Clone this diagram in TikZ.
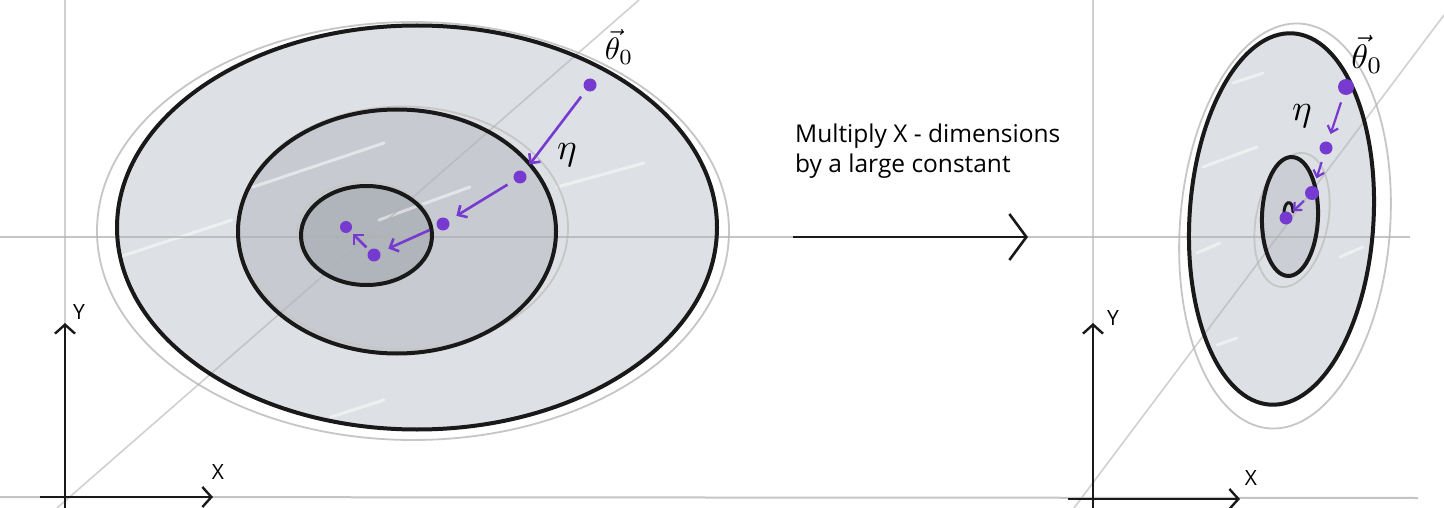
\documentclass[tikz,border=0pt]{standalone}
\usepackage[no-math]{fontspec}
\setmainfont{Open Sans}
\usetikzlibrary{arrows.meta}
\definecolor{pur}{RGB}{118,58,208}
\definecolor{fillA}{RGB}{221,224,228}
\definecolor{fillB}{RGB}{199,203,209}
\definecolor{fillC}{RGB}{176,180,187}
\definecolor{fillD}{RGB}{203,207,213}
\definecolor{ink}{RGB}{25,25,25}
\definecolor{ringc}{RGB}{198,198,198}
\definecolor{guide}{RGB}{178,178,178}
\begin{document}
\begin{tikzpicture}[x=1pt,y=-1pt,
  contour/.style={draw=ink,line width=4pt},
  ringline/.style={draw=ringc,line width=1.8pt},
  guideline/.style={draw=guide,line width=2pt,opacity=0.75},
  lightguide/.style={draw=guide,line width=1.6pt,opacity=0.6},
  streak/.style={draw=white,line width=3pt,line cap=round,opacity=0.5},
  axisline/.style={draw=ink,line width=2.4pt,-{Straight Barb[length=9pt,width=20pt]}},
  bigarrow/.style={draw=ink,line width=2.6pt,-{Straight Barb[length=17pt,width=46pt]}},
  pdot/.style={circle,fill=pur,inner sep=0pt,minimum size=13pt},
  parr/.style={draw=pur,line width=2.6pt,-{Straight Barb[length=7pt,width=14pt]},shorten <=8pt,shorten >=9pt},
  parrs/.style={draw=pur,line width=2.2pt,-{Straight Barb[length=6pt,width=11pt]},shorten <=8pt,shorten >=8pt},
  sans/.style={font=\fontsize{24.5}{30}\selectfont,inner sep=0pt},
  axlab/.style={font=\fontsize{21}{24}\selectfont,inner sep=0pt},
  mathlab/.style={inner sep=0pt},
]
\useasboundingbox (0,0) rectangle (1444,508);
\fill[white] (0,0) rectangle (1444,508);

% ---------- fills ----------
\path[fill=fillA] (417,227.5) ellipse [x radius=300,y radius=202];
\path[fill=fillB] (397,231.5) ellipse [x radius=159,y radius=122];
\path[fill=fillC] (366.5,235.5) ellipse [x radius=65.5,y radius=49.5];
\path[fill=fillA,rotate around={-3.5:(1281.5,219)}] (1281.5,219) ellipse [x radius=92,y radius=186];
\path[fill=fillD,rotate around={-2:(1290,216.5)}] (1290,216.5) ellipse [x radius=28,y radius=59.5];

% ---------- texture streaks ----------
\draw[streak] (119,257) -- (232,220);
\draw[streak] (253,187) -- (384,143);
\draw[streak] (557,187) -- (644,163);
\draw[streak] (331,417) -- (384,400);
\draw[streak] (379,220) -- (470,187);
\draw[streak] (1203,167) -- (1257,147);
\draw[streak] (1233,83) -- (1263,73);
\draw[streak] (1197,253) -- (1220,243);
\draw[streak] (1340,257) -- (1363,247);
\draw[streak] (1217,345) -- (1237,338);

% ---------- light rings ----------
\draw[ringline] (413,231) ellipse [x radius=316,y radius=209];
\draw[ringline] (403,228) ellipse [x radius=165,y radius=121.5];
\draw[ringline] (365,233) ellipse [x radius=68,y radius=51];
\draw[ringline,rotate around={-4.5:(1285,226)}] (1285,226) ellipse [x radius=105,y radius=203];
\draw[ringline,rotate around={-11:(1292,220)}] (1292,220) ellipse [x radius=36,y radius=68];

% ---------- guide lines ----------
\draw[guideline] (0,237) -- (1410,237);
\draw[guideline] (0,497) -- (1418,498);
\draw[lightguide] (65,0) -- (65,508);
\draw[lightguide] (1093,0) -- (1093,508);
\draw[lightguide] (57,508) -- (639,0);
\draw[lightguide] (1074,508) -- (1444,15);

% ---------- contours ----------
\draw[contour] (417,227.5) ellipse [x radius=300,y radius=202];
\draw[contour] (397,231.5) ellipse [x radius=159,y radius=122];
\draw[contour] (366.5,235.5) ellipse [x radius=65.5,y radius=49.5];
\draw[contour,rotate around={-3.5:(1281.5,219)}] (1281.5,219) ellipse [x radius=92,y radius=186];
\draw[contour,rotate around={-2:(1290,216.5)}] (1290,216.5) ellipse [x radius=28,y radius=59.5];
\draw[contour,line width=3pt,line cap=round] (1284,216) .. controls (1283,200) and (1293,198) .. (1293,212);

% ---------- axes ----------
\coordinate (yL0) at (65,508);
\coordinate (yL1) at (65,323);
\coordinate (xL0) at (40,497);
\coordinate (xL1) at (213,497);
\coordinate (yR0) at (1093,508);
\coordinate (yR1) at (1093,323);
\coordinate (xR0) at (1068,499);
\coordinate (xR1) at (1240,499);
\draw[axisline] (yL0) -- (yL1);
\draw[axisline] (xL0) -- (xL1);
\draw[axisline] (yR0) -- (yR1);
\draw[axisline] (xR0) -- (xR1);
\node[axlab] (labYL) at (79,312) {Y};
\node[axlab] (labXL) at (218,472) {X};
\node[axlab] (labYR) at (1113,318) {Y};
\node[axlab] (labXR) at (1251,478) {X};

% ---------- transformation ----------
\coordinate (tA) at (793,237);
\coordinate (tB) at (1028,237);
\draw[bigarrow] (tA) -- (tB);
\node[sans,anchor=base west] (t1) at (795,143) {Multiply X - dimensions};
\node[sans,anchor=base west] (t2) at (795,173) {by a large constant};

% ---------- left descent ----------
\node[pdot] (a1) at (590,85) {};
\node[pdot] (a2) at (520,177) {};
\node[pdot] (a3) at (443,224) {};
\node[pdot] (a4) at (374,255) {};
\node[pdot,minimum size=12pt] (a5) at (346,227) {};
\draw[parr] (a1) -- (a2);
\draw[parr] (a2) -- (a3);
\draw[parr] (a3) -- (a4);
\draw[parr,shorten <=4pt,shorten >=3pt] (a4) -- (a5);
\node[mathlab,scale=3.1] (th1) at (619,47) {$\vec{\theta}_0$};
\node[mathlab,scale=3.7] (eta1) at (567,155) {$\eta$};

% ---------- right descent ----------
\node[pdot,minimum size=16pt] (b1) at (1346,87) {};
\node[pdot] (b2) at (1326,148) {};
\node[pdot,minimum size=14pt] (b3) at (1312,193) {};
\node[pdot] (b4) at (1286,218) {};
\draw[parrs] (b1) -- (b2);
\draw[parrs] (b2) -- (b3);
\draw[parrs,shorten <=4pt,shorten >=3pt] (b3) -- (b4);
\node[mathlab,scale=3.4] (th2) at (1367,54) {$\vec{\theta}_0$};
\node[mathlab,scale=3.7] (eta2) at (1302,116) {$\eta$};
\end{tikzpicture}
\end{document}
